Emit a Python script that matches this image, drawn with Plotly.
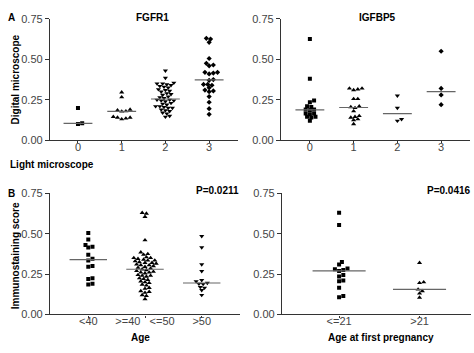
import numpy as np
import plotly.graph_objects as go

W, H = 474, 353

# ---------------- data ----------------
light_cats = ["0", "1", "2", "3"]
age_cats = ["&lt;40", "&gt;=40\u00a0\u00a0\u00a0&lt;=50", "&gt;50"]
preg_cats = ["&lt;=21", "&gt;21"]
y_ticks = [0, 0.25, 0.5, 0.75]

fgfr1_0 = [0.20, 0.10, 0.105]
fgfr1_1 = [0.296, 0.266, 0.185, 0.18, 0.19, 0.178, 0.14, 0.135, 0.145, 0.13, 0.14]
fgfr1_2 = [0.43, 0.385,
           0.355, 0.35, 0.345, 0.35, 0.34,
           0.33, 0.325, 0.335,
           0.31, 0.305, 0.315, 0.30,
           0.29, 0.285, 0.28,
           0.27, 0.265, 0.26,
           0.25, 0.245, 0.24, 0.25, 0.245,
           0.23, 0.225, 0.22,
           0.21, 0.205, 0.20, 0.21, 0.20,
           0.19, 0.185, 0.18,
           0.17, 0.165,
           0.15, 0.145]
fgfr1_3 = [0.63, 0.625, 0.605, 0.505, 0.475, 0.465, 0.46, 0.42, 0.415, 0.41, 0.42,
           0.375, 0.37, 0.345, 0.34, 0.345, 0.325, 0.31, 0.305, 0.30, 0.27, 0.235,
           0.195, 0.16]

igfbp5_0 = [0.625, 0.38, 0.245, 0.235, 0.21, 0.205, 0.19, 0.19, 0.185, 0.165, 0.16,
            0.165, 0.145, 0.14, 0.145, 0.12]
igfbp5_1 = [0.32, 0.315, 0.31, 0.32, 0.255, 0.255, 0.21, 0.205, 0.20, 0.18, 0.15,
            0.145, 0.14, 0.13, 0.125, 0.10]
igfbp5_2 = [0.275, 0.20, 0.12, 0.13]
igfbp5_3 = [0.55, 0.32, 0.28, 0.22]

age_lt40 = [0.505, 0.465, 0.43, 0.415, 0.42, 0.37, 0.345, 0.335, 0.30, 0.295, 0.225,
            0.22, 0.185, 0.19]
age_40_50 = [0.63, 0.625, 0.605, 0.46,
             0.385, 0.375, 0.37,
             0.355, 0.35, 0.345, 0.35,
             0.335, 0.34, 0.33, 0.335,
             0.32, 0.325, 0.315, 0.32,
             0.305, 0.30, 0.31, 0.305,
             0.29, 0.295, 0.285,
             0.275, 0.27, 0.28,
             0.26, 0.255, 0.265, 0.26,
             0.24, 0.245, 0.235, 0.24,
             0.22, 0.225, 0.215,
             0.20, 0.205, 0.195,
             0.185, 0.18,
             0.165, 0.16,
             0.14, 0.145, 0.135,
             0.115, 0.12,
             0.095]
age_gt50 = [0.485, 0.415, 0.31, 0.268, 0.212, 0.205, 0.195, 0.19, 0.188, 0.17, 0.165,
            0.15, 0.12]

preg_le21 = [0.63, 0.555, 0.325, 0.31, 0.285, 0.28, 0.275, 0.27, 0.245, 0.235, 0.21,
             0.205, 0.165, 0.114, 0.106]
preg_gt21 = [0.32, 0.20, 0.195, 0.155, 0.145, 0.13, 0.105]

# ---------------- layout helpers ----------------
def swarm(vals, ppx, ppy, d=3.6, step=1.4):
    """Simple beeswarm: returns x offsets (data units) from pixel-space packing."""
    order = np.argsort(vals)
    placed = []
    offs = np.zeros(len(vals))
    for idx in order:
        yp = vals[idx] * ppy
        k = 0
        while True:
            cands = [0.0] if k == 0 else [k * step, -k * step]
            ok = None
            for c in cands:
                if all((c - px) ** 2 + (yp - py) ** 2 >= d * d for px, py in placed):
                    ok = c
                    break
            if ok is not None:
                placed.append((ok, yp))
                offs[idx] = ok / ppx
                break
            k += 1
    return offs

symbols = ["square", "triangle-up", "triangle-down", "diamond"]
sizes = [4, 4.5, 4.5, 4]

panels = [
    dict(groups=[fgfr1_0, fgfr1_1, fgfr1_2, fgfr1_3], sym=[0, 1, 2, 3], ticks=light_cats,
         xr=[-0.64, 3.66], px=[50, 238], py=[139, 13.3]),
    dict(groups=[igfbp5_0, igfbp5_1, igfbp5_2, igfbp5_3], sym=[0, 1, 2, 3], ticks=light_cats,
         xr=[-0.66, 3.66], px=[281, 470], py=[139, 13.3]),
    dict(groups=[age_lt40, age_40_50, age_gt50], sym=[0, 1, 2], ticks=age_cats,
         xr=[-0.675, 2.675], px=[50, 240], py=[319.3, 194]),
    dict(groups=[preg_le21, preg_gt21], sym=[0, 1], ticks=preg_cats,
         xr=[-0.71, 1.64], px=[282, 471], py=[319.3, 194]),
]

fig = go.Figure()
layout = dict(width=W, height=H, margin=dict(l=0, r=0, t=0, b=0),
              paper_bgcolor="white", plot_bgcolor="white", showlegend=False,
              font=dict(family="Liberation Sans, Arial, sans-serif", size=11, color="#444"))

for pi, p in enumerate(panels):
    sfx = "" if pi == 0 else str(pi + 1)
    xa, ya = "x" + sfx, "y" + sfx
    xdom = [p["px"][0] / W, p["px"][1] / W]
    ydom = [1 - p["py"][0] / H, 1 - p["py"][1] / H]
    ppx = (p["px"][1] - p["px"][0]) / (p["xr"][1] - p["xr"][0])
    ppy = (p["py"][0] - p["py"][1]) / 0.75
    for gi, vals in enumerate(p["groups"]):
        v = np.array(vals, dtype=float)
        offs = swarm(v, ppx, ppy)
        s = p["sym"][gi]
        fig.add_trace(go.Scatter(x=gi + offs, y=v, mode="markers", xaxis=xa, yaxis=ya,
                                 marker=dict(symbol=symbols[s], size=sizes[s], color="black",
                                             line=dict(width=0)),
                                 hoverinfo="y"))
        med = float(np.median(v))
        fig.add_trace(go.Scatter(x=[gi - 0.33, gi + 0.33], y=[med, med], mode="lines",
                                 xaxis=xa, yaxis=ya, line=dict(color="#666", width=1.2),
                                 hoverinfo="skip"))
    layout["xaxis" + sfx] = dict(domain=xdom, range=p["xr"], anchor=ya,
                                 tickvals=list(range(len(p["groups"]))), ticktext=p["ticks"],
                                 showline=True, linecolor="#333", linewidth=1.3,
                                 ticks="outside", ticklen=2, tickcolor="#333",
                                 ticklabelstandoff=-6,
                                 showgrid=False, zeroline=False, fixedrange=True,
                                 tickfont=dict(size=11, color="#444"))
    layout["yaxis" + sfx] = dict(domain=ydom, range=[0, 0.75], anchor=xa,
                                 tickvals=y_ticks, tickformat=".2f",
                                 showline=True, linecolor="#333", linewidth=1.3,
                                 ticks="outside", ticklen=4, tickcolor="#333",
                                 showgrid=False, zeroline=False, fixedrange=True,
                                 tickfont=dict(size=11, color="#444"))

def ann(text, x, y, xanchor="center", yanchor="middle", size=10, angle=0):
    return dict(text="<b>" + text + "</b>", x=x / W, y=1 - y / H, xref="paper", yref="paper",
                xanchor=xanchor, yanchor=yanchor, showarrow=False, textangle=angle,
                font=dict(size=size, color="black", family="Liberation Sans, Arial, sans-serif"))

layout["annotations"] = [
    ann("A", 6, 12, xanchor="left"),
    ann("B", 6, 194, xanchor="left"),
    ann("FGFR1", 152, 12),
    ann("IGFBP5", 377, 12),
    ann("Digital microscope", 15, 76, angle=-90),
    ann("Light microscope", 8, 164, xanchor="left"),
    ann("Immunostaining score", 15, 259, angle=-90),
    ann("Age", 140, 343),
    ann("Age at first pregnancy", 381, 343),
    ann("P=0.0211", 241, 191, xanchor="right"),
    ann("P=0.0416", 473, 191, xanchor="right"),
]

fig.update_layout(**layout)
fig.write_html("out.html")
